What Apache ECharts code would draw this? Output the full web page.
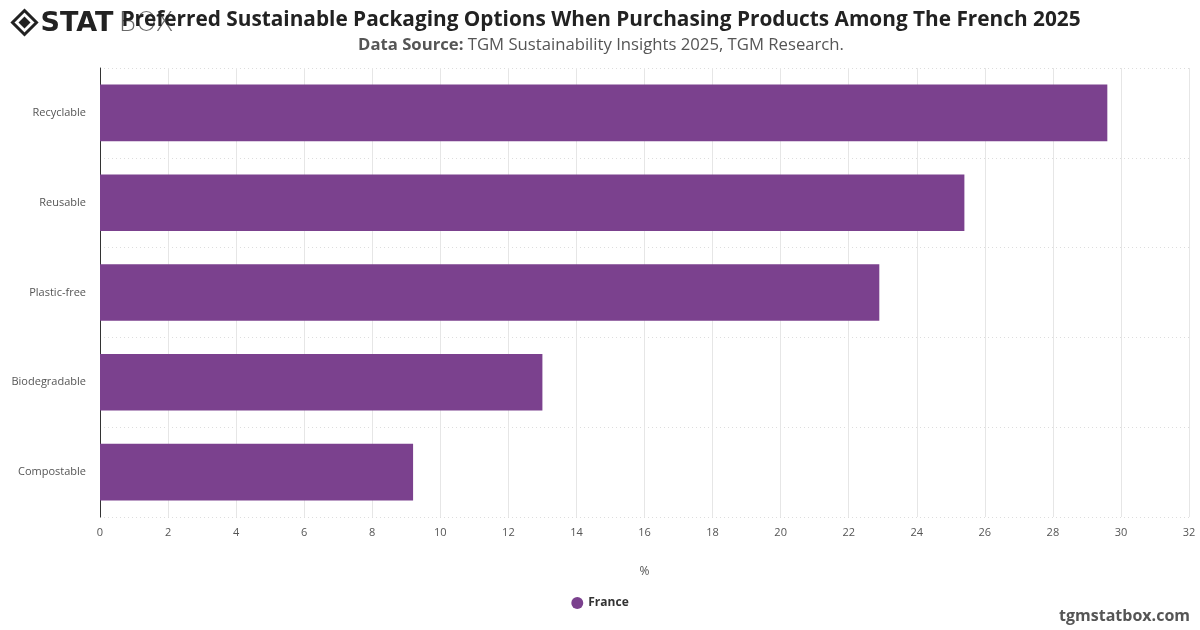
<!DOCTYPE html>
<html>
<head>
<meta charset="utf-8">
<script src="https://cdn.jsdelivr.net/npm/echarts@6/dist/echarts.min.js"></script>
<style>
  html, body { margin: 0; padding: 0; background: #fff; }
  #chart { width: 1200px; height: 630px; }
</style>
</head>
<body>
<div id="chart"></div>
<script>
// categories top to bottom as drawn
const categories = ['Recyclable', 'Reusable', 'Plastic-free', 'Biodegradable', 'Compostable']
const franceValues = [29.6, 25.4, 22.9, 13.0, 9.2]
const seriesName = 'France'

const chart = echarts.init(document.getElementById('chart'))

const option = {
  backgroundColor: '#fff',
  animation: false,
  textStyle: { fontFamily: '"Open Sans", "DejaVu Sans", sans-serif' },
  title: {
    text: 'Preferred Sustainable Packaging Options When Purchasing Products Among The French 2025',
    left: 596,
    textAlign: 'center',
    top: 5,
    textStyle: { fontSize: 20.8, fontWeight: 'bold', color: '#222' },
    subtext: '{b|Data Source:} TGM Sustainability Insights 2025, TGM Research.',
    subtextStyle: {
      fontSize: 16.7,
      color: '#555',
      rich: { b: { fontSize: 16.7, fontWeight: 'bold', color: '#555' } }
    },
    itemGap: 6
  },
  graphic: [
    {
      type: 'group',
      left: 10,
      top: 8,
      children: [
        {
          type: 'polygon',
          shape: { points: [[12, 0], [24, 12], [12, 24], [0, 12]] },
          style: { fill: 'none', stroke: '#222', lineWidth: 3 }
        },
        {
          type: 'polygon',
          shape: { points: [[12, 6], [18, 12], [12, 18], [6, 12]] },
          style: { fill: '#222' }
        },
        {
          type: 'text',
          x: 28,
          y: 0,
          style: { text: 'STAT', font: 'bold 27px "DejaVu Sans", sans-serif', fill: '#222' }
        },
        {
          type: 'text',
          x: 106,
          y: 0,
          style: { text: 'BOX', font: '300 27px "DejaVu Sans", sans-serif', fill: '#444', opacity: 0.8 }
        }
      ]
    },
    {
      type: 'text',
      right: 10,
      bottom: 6,
      style: { text: 'tgmstatbox.com', font: 'bold 16px "Open Sans", sans-serif', fill: '#555' }
    }
  ],
  legend: {
    bottom: 16,
    left: 'center',
    icon: 'circle',
    itemWidth: 12,
    itemHeight: 12,
    textStyle: { fontSize: 12, fontWeight: 'bold', color: '#333' },
    data: [seriesName]
  },
  grid: { left: 100, right: 11, top: 68, bottom: 113 },
  xAxis: {
    type: 'value',
    min: 0,
    max: 32,
    interval: 2,
    name: '%',
    nameLocation: 'middle',
    nameGap: 49,
    nameTextStyle: { fontSize: 12, color: '#555' },
    axisLine: { show: false },
    axisTick: { show: false },
    axisLabel: { fontSize: 11, color: '#555', margin: 10 },
    splitLine: { show: true, lineStyle: { color: '#e6e6e6', width: 1 } }
  },
  yAxis: {
    type: 'category',
    inverse: true,
    data: categories,
    axisLine: { show: true, lineStyle: { color: '#333', width: 1 } },
    axisTick: { show: false },
    axisLabel: { fontSize: 11, color: '#555', margin: 14 },
    splitLine: { show: true, lineStyle: { color: '#ddd', type: [1, 3], width: 1 } }
  },
  series: [
    {
      name: seriesName,
      type: 'bar',
      data: franceValues,
      barCategoryGap: '37%',
      itemStyle: { color: '#7b418e' }
    }
  ]
}

chart.setOption(option)
</script>
</body>
</html>
